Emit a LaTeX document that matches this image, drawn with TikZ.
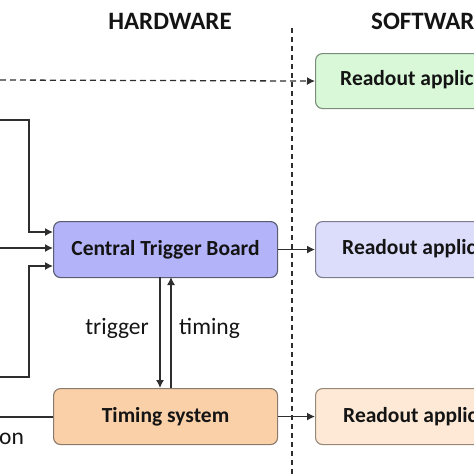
\documentclass[tikz,border=0pt]{standalone}
\usepackage{fontspec}
\setmainfont{Carlito}
\usetikzlibrary{arrows.meta}
\definecolor{linec}{HTML}{2E2E2E}
\definecolor{greenf}{HTML}{D8F8D8}
\definecolor{greend}{HTML}{7A8C7A}
\definecolor{ctbf}{HTML}{B3B3FA}
\definecolor{ctbd}{HTML}{5A5A70}
\definecolor{rd2f}{HTML}{DCDCFB}
\definecolor{rd2d}{HTML}{7C7C90}
\definecolor{timf}{HTML}{FAD0A8}
\definecolor{timd}{HTML}{8A7A6C}
\definecolor{rd3f}{HTML}{FDE9D5}
\definecolor{rd3d}{HTML}{988878}
\definecolor{txt}{HTML}{141414}
\tikzset{
  boxc/.style={draw, rounded corners=7pt, line width=1.1pt, inner sep=0pt},
  conn/.style={draw=linec, line width=1.3pt, -{Latex[length=8pt,width=8pt]}},
  plain/.style={draw=linec, line width=1.3pt},
  lbl/.style={text=txt, font=\fontsize{23.5}{25}\selectfont, inner sep=0pt},
  blbl/.style={text=txt, font=\fontsize{21.5}{24}\selectfont\bfseries, inner sep=0pt},
  head/.style={text=txt, font=\fontsize{25}{27}\selectfont\bfseries, inner sep=0pt}
}
\begin{document}
\begin{tikzpicture}[x=1pt,y=-1pt]
\useasboundingbox (0,0) rectangle (474,474);
\clip (0,0) rectangle (474,474);
% headings
\node[head] (hw) at (170,21) {HARDWARE};
\node[head, anchor=west] (sw) at (371,21) {SOFTWARE};
% divider
\coordinate (dvt) at (292,28);
\coordinate (dvb) at (292,474);
\draw[linec, line width=2pt, dash pattern=on 5pt off 4pt] (dvt) -- (dvb);
% boxes
\node[boxc, draw=greend, fill=greenf, minimum width=200pt, minimum height=55pt, anchor=north west] (r1) at (315,53) {};
\node[blbl, anchor=west] (r1t) at (340,80) {Readout application};
\node[boxc, draw=ctbd, fill=ctbf, minimum width=224pt, minimum height=56pt, anchor=north west] (ctb) at (53,221) {};
\node[blbl] (ctbt) at (ctb.center) {Central Trigger Board};
\node[boxc, draw=rd2d, fill=rd2f, minimum width=200pt, minimum height=56pt, anchor=north west] (r2) at (315,221) {};
\node[blbl, anchor=west] (r2t) at (342,249) {Readout application};
\node[boxc, draw=timd, fill=timf, minimum width=224pt, minimum height=56pt, anchor=north west] (tim) at (53,388) {};
\node[blbl] (timt) at (tim.center) {Timing system};
\node[boxc, draw=rd3d, fill=rd3f, minimum width=200pt, minimum height=56pt, anchor=north west] (r3) at (315,388) {};
\node[blbl, anchor=west] (r3t) at (343,417) {Readout application};
% top dashed arrow
\coordinate (d0) at (0,80);
\draw[conn, dash pattern=on 6pt off 4pt] (d0) -- (r1.west);
% inputs to CTB
\coordinate (a0) at (0,120);
\coordinate (a1) at (29,120);
\coordinate (a2) at (29,232);
\draw[conn] (a0) -- (a1) -- (a2) -- (a2 -| ctb.west);
\coordinate (b0) at (0,248);
\draw[conn] (b0) -- (b0 -| ctb.west);
\coordinate (c0) at (0,377);
\coordinate (c1) at (29,377);
\coordinate (c2) at (29,266);
\draw[conn] (c0) -- (c1) -- (c2) -- (c2 -| ctb.west);
% CTB <-> timing
\coordinate (t1) at (160,277);
\coordinate (t2) at (171,277);
\draw[conn] (t1) -- (t1 |- tim.north);
\draw[conn] (t2 |- tim.north) -- (t2);
\node[lbl, anchor=east] (trg) at (149,328) {trigger};
\node[lbl, anchor=west] (tmg) at (179,328) {timing};
% timing input
\coordinate (e0) at (0,417);
\draw[plain] (e0) -- (e0 -| tim.west);
\node[lbl, anchor=west] (on) at (-1,439) {on};
% to readout
\draw[conn] (ctb.east) -- (r2.west);
\draw[conn] (tim.east) -- (r3.west);
\end{tikzpicture}
\end{document}
